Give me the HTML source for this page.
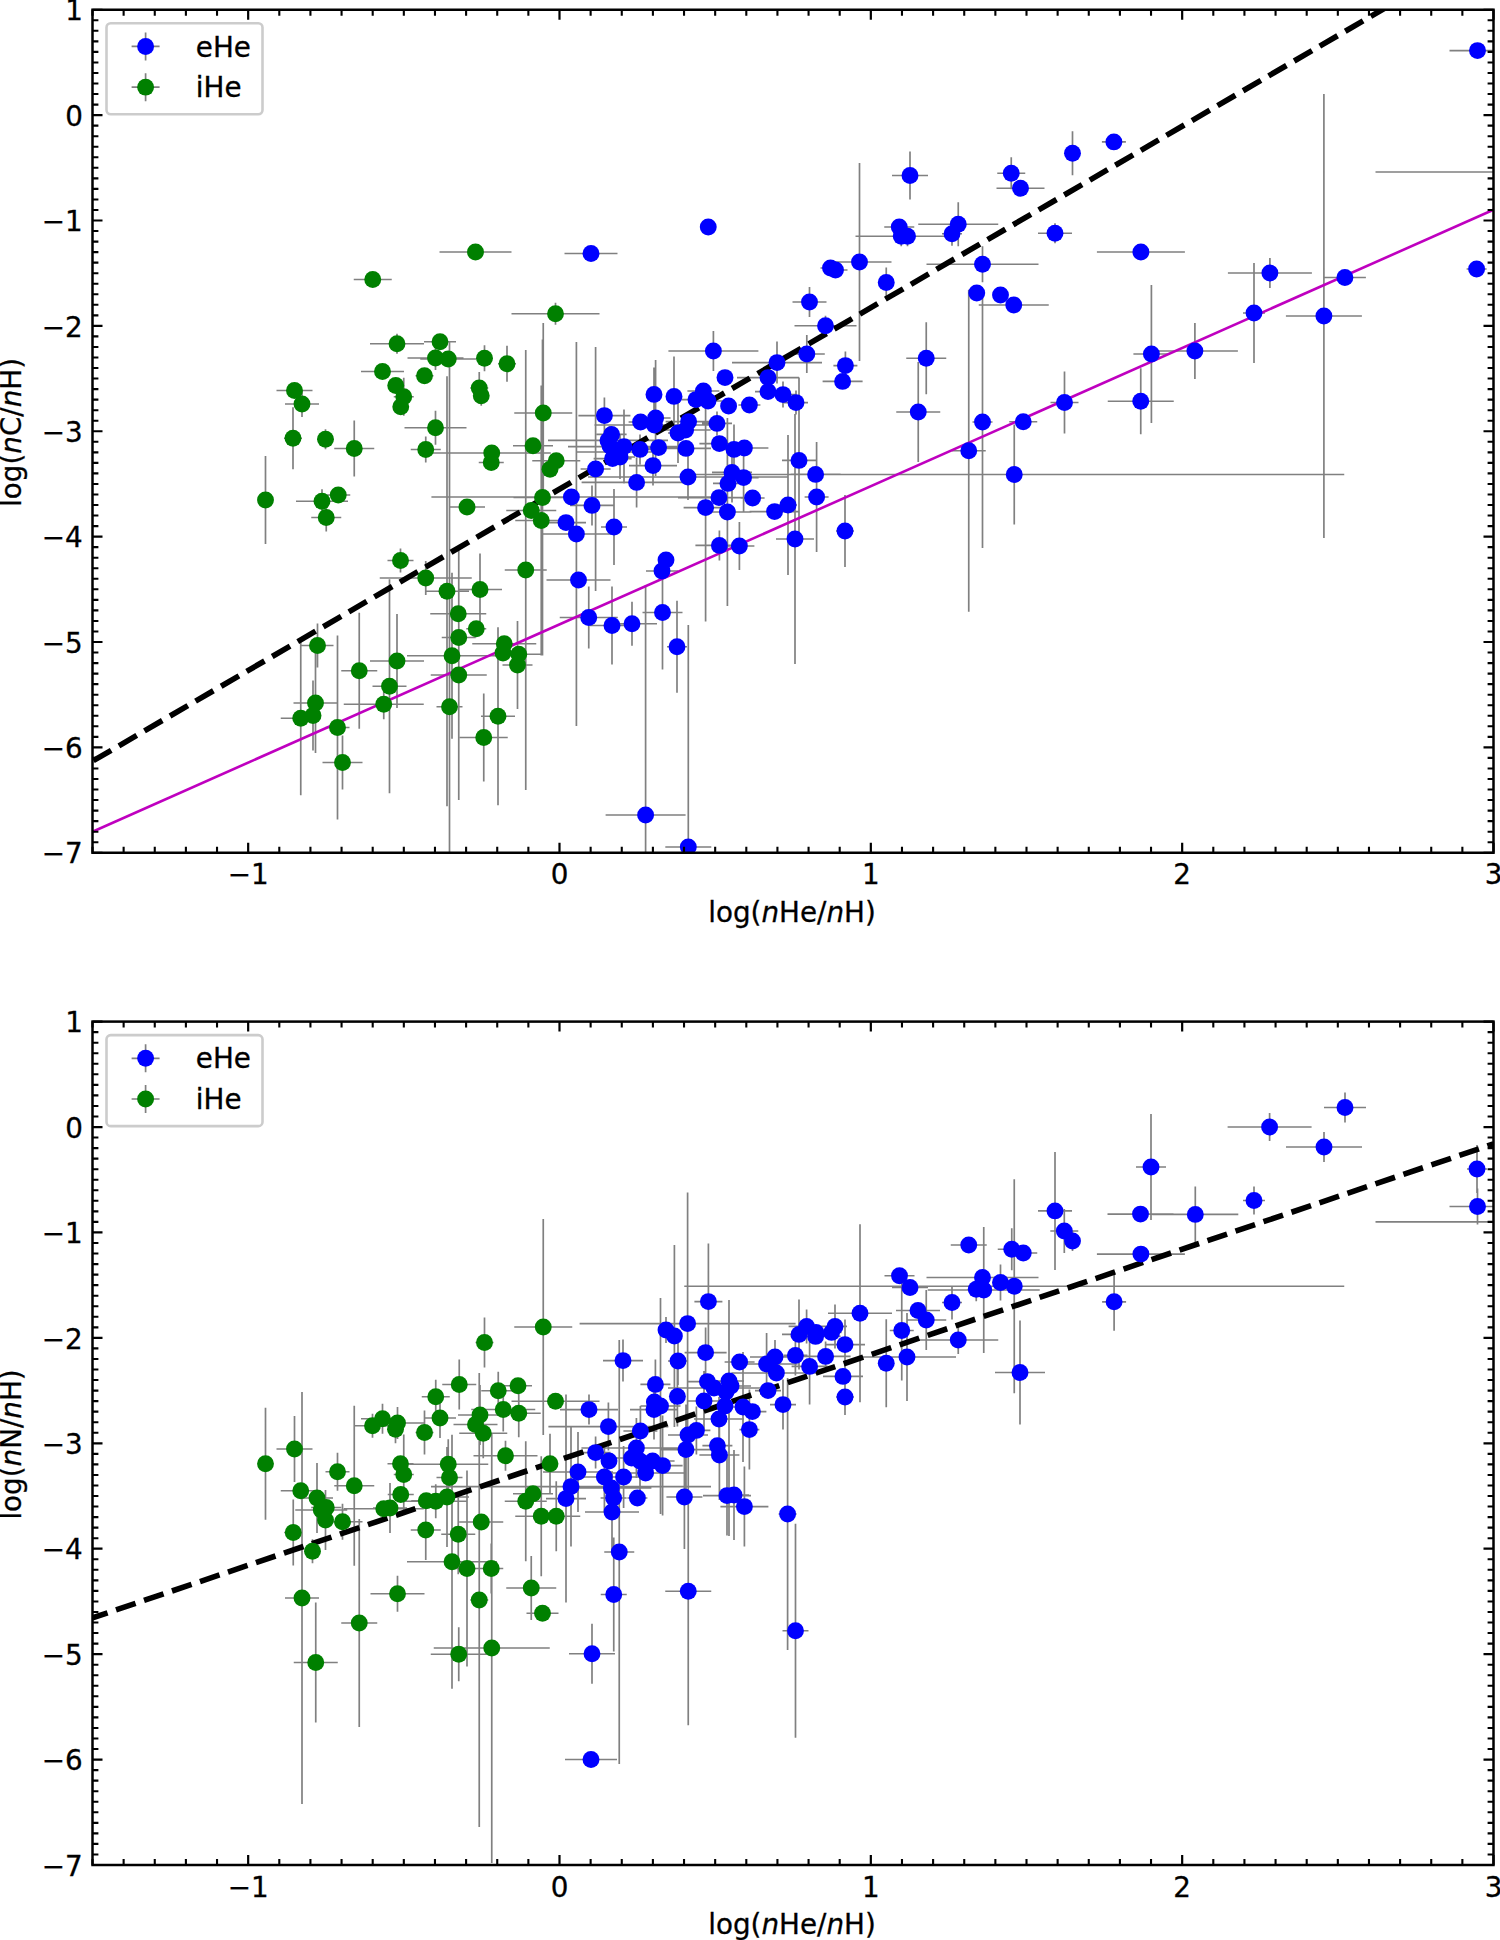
<!DOCTYPE html>
<html lang="en"><head><meta charset="utf-8"><title>Abundance plots</title>
<style>html,body{margin:0;padding:0;background:#fff}svg{display:block}text{font-family:"DejaVu Sans","Liberation Sans",sans-serif;font-size:27.78px;fill:#000;stroke:#000;stroke-width:0.3px}.it{font-style:italic}</style></head><body>
<svg width="1500" height="1940" viewBox="0 0 1500 1940">
<rect width="1500" height="1940" fill="#fff"/>
<defs><clipPath id="clip1"><rect x="92.50" y="9.75" width="1401.00" height="843.00"/></clipPath></defs>
<g clip-path="url(#clip1)">
<path d="M668.40 351.00H758.40M713.40 331.00V371.00M732.00 362.60H822.00M777.00 341.60V383.60M788.80 354.00H824.80M806.80 335.00V373.00M794.50 325.75H856.50M825.50 315.75V335.75M833.40 365.60H857.40M845.40 351.60V379.60M822.60 381.40H862.60M737.00 377.60H799.00M755.00 391.60H781.00M770.00 394.60H796.00M783.00 381.60V407.60M784.00 402.60H808.00M796.00 390.60V414.60M687.40 391.00H719.40M682.00 399.60H710.00M694.00 401.00H722.00M654.00 367.40V421.40M674.00 356.40V436.40M738.40 405.00H760.40M578.40 415.60H630.40M604.40 397.60V433.60M628.60 422.00H652.60M640.60 418.00H670.60M655.60 360.00V476.00M594.40 425.00H714.40M665.60 421.60H711.60M702.00 423.40H732.00M717.00 411.40V435.40M660.60 430.00H710.60M668.00 433.00H688.00M678.00 403.00V463.00M596.60 434.40H626.60M548.00 440.40H668.00M610.00 426.00V466.00M568.00 446.60H680.00M624.00 409.60V483.60M576.60 452.00H656.60M605.00 457.00H635.00M620.00 435.00V479.00M593.60 458.60H631.60M623.00 449.40H657.00M640.00 434.40V464.40M638.60 447.60H678.60M661.00 448.40H711.00M699.40 443.60H739.40M719.00 449.40H749.00M734.00 424.40V474.40M720.40 448.00H768.40M629.00 465.60H677.00M653.00 445.60V485.60M580.60 469.00H610.60M595.60 347.00V591.00M581.60 482.40H691.60M636.60 457.40V507.40M588.00 477.00H788.00M688.00 454.00V500.00M712.00 472.40H752.00M732.00 442.40V502.40M728.60 477.60H758.60M743.60 442.60V512.60M713.00 483.40H743.00M782.00 460.40H816.00M799.00 377.40V543.40M790.60 474.40H840.60M804.60 497.00H828.60M816.60 442.00V552.00M678.00 497.60H760.00M740.60 498.00H764.60M683.60 507.60H727.60M705.60 393.60V621.60M703.40 512.00H751.40M727.40 418.00V606.00M749.60 511.60H799.60M779.00 505.00H797.00M788.00 435.00V575.00M431.40 497.00H711.40M570.00 505.40H614.00M592.00 485.40V525.40M546.00 522.60H586.00M541.40 534.00H611.40M576.40 342.00V726.00M601.00 527.00H627.00M614.00 489.00V565.00M695.40 545.40H743.40M719.40 530.40V560.40M724.40 546.00H754.40M739.40 522.00V570.00M776.00 539.00H814.00M795.00 414.00V664.00M836.00 531.00H854.00M845.00 495.00V567.00M646.00 571.00H678.00M564.50 253.50H617.50M701.25 227.00H715.25M892.00 175.50H928.00M910.00 151.50V199.50M997.25 173.25H1025.25M1011.25 157.25V189.25M996.50 188.25H1044.50M1072.50 131.30V175.30M884.25 227.00H914.25M889.25 236.25H913.25M901.25 226.25V246.25M855.50 236.25H959.50M907.50 226.25V246.25M918.25 224.25H998.25M958.25 202.25V246.25M942.00 233.75H962.00M952.00 221.75V245.75M1038.00 233.25H1072.00M1055.00 223.25V243.25M827.50 262.00H891.50M859.50 163.00V361.00M820.50 268.00H840.50M823.50 270.00H847.50M886.25 267.50V297.50M926.50 264.25H1038.50M982.50 246.25V282.25M978.75 305.00H1048.75M792.50 302.00H826.50M809.50 287.00V317.00M906.25 358.25H946.25M926.25 322.25V394.25M1050.50 402.50H1078.50M1064.50 371.50V433.50M1101.90 141.90H1125.90M1096.90 252.00H1184.90M1449.50 50.60H1505.50M1227.90 273.00H1311.90M1269.90 258.00V288.00M1323.90 277.50H1365.90M1466.60 269.00H1486.60M1243.00 313.00H1265.00M1254.00 263.00V363.00M1285.90 316.00H1361.90M1323.90 94.00V538.00M1133.40 354.00H1169.40M1151.40 285.00V423.00M1151.90 351.00H1237.90M1194.90 323.00V379.00M1375.50 172.00H1824.50M896.25 412.00H940.25M918.25 362.00V462.00M972.50 422.00H992.50M982.50 296.00V548.00M951.75 450.75H985.75M968.75 289.75V611.75M1009.25 421.75H1037.25M684.25 474.50H1344.25M1014.25 424.50V524.50M1107.75 401.25H1173.75M1140.75 368.25V434.25M546.50 580.00H610.50M559.75 617.50H617.75M588.75 586.50V648.50M590.00 625.50H634.00M612.00 586.50V664.50M607.00 623.75H657.00M632.00 601.75V645.75M642.50 612.50H682.50M662.50 555.50V669.50M667.00 646.75H687.00M677.00 600.75V692.75M605.60 815.00H685.60M645.60 585.00V1045.00M665.30 847.00H711.30M688.30 625.00V1069.00M439.50 252.00H511.50M353.75 279.50H391.75M511.50 313.75H599.50M555.50 302.75V324.75M370.00 343.75H424.00M397.00 333.75V353.75M424.00 341.75H456.00M407.50 358.00H463.50M435.50 346.00V370.00M420.25 359.00H476.25M476.50 358.25H492.50M484.50 345.25V371.25M498.00 363.75H516.00M507.00 345.75V381.75M361.00 371.50H404.00M415.50 375.75H433.50M393.75 396.75H413.75M403.75 377.75V415.75M470.25 388.00H488.25M479.25 372.00V404.00M481.25 385.75V405.75M276.50 390.50H312.50M285.00 404.00H319.00M302.00 391.00V417.00M284.00 438.25H302.00M293.00 407.25V469.25M317.50 439.25H333.50M325.50 429.25V449.25M334.25 448.50H374.25M354.25 420.50V476.50M404.50 427.75H466.50M435.50 410.75V444.75M410.75 449.50H440.75M425.75 436.50V462.50M514.25 413.00H572.25M543.25 323.00V503.00M513.00 445.75H553.00M432.75 453.00H550.75M478.75 462.50H503.75M532.25 460.75H580.25M513.50 497.50H571.50M542.50 339.50V655.50M265.50 456.00V544.00M296.00 501.25H348.00M322.00 489.25V513.25M326.25 495.00H350.25M311.25 517.50H341.25M326.25 503.50V531.50M449.00 507.00H485.00M506.25 510.50H556.25M515.25 520.50H567.25M541.25 385.50V655.50M387.50 560.50H413.50M400.50 548.50V572.50M379.75 578.00H471.75M425.75 561.00V595.00M425.00 591.25H469.00M447.00 376.25V806.25M458.00 589.50H502.00M480.00 553.50V625.50M504.75 570.00H546.75M525.75 350.00V790.00M430.25 613.75H486.25M466.25 628.75H486.25M441.75 637.50H475.75M407.00 655.75H497.00M452.00 572.75V738.75M430.75 675.00H486.75M458.75 550.00V800.00M436.50 706.75H462.50M449.50 341.75V1071.75M472.25 643.75H536.25M496.75 654.25H540.75M502.50 665.00H532.50M517.50 621.00V709.00M481.00 716.25H515.00M498.00 627.25V805.25M459.75 737.50H507.75M483.75 693.50V781.50M301.50 645.50H333.50M317.50 623.50V667.50M341.25 670.75H377.25M359.25 612.75V728.75M370.00 661.00H424.00M397.00 614.00V708.00M372.50 686.25H406.50M389.50 579.25V793.25M343.75 704.25H423.75M383.75 689.25V719.25M293.50 703.00H337.50M315.50 653.00V753.00M313.00 680.50V750.50M280.75 718.25H320.75M300.75 641.25V795.25M325.50 727.50H349.50M337.50 635.50V819.50M322.50 762.50H362.50M342.50 735.50V789.50" stroke="#808080" stroke-width="1.70" fill="none"/>
<line x1="92.50" y1="831.70" x2="1493.50" y2="209.80" stroke="#bf00bf" stroke-width="2.6"/>
<line x1="92.50" y1="761.20" x2="1441.70" y2="-24.96" stroke="#000" stroke-width="5.6" stroke-dasharray="20.65 8.92" stroke-dashoffset="-1.00"/>
<g fill="#0000ff">
<circle cx="713.40" cy="351.00" r="8.45"/>
<circle cx="777.00" cy="362.60" r="8.45"/>
<circle cx="806.80" cy="354.00" r="8.45"/>
<circle cx="825.50" cy="325.75" r="8.45"/>
<circle cx="845.40" cy="365.60" r="8.45"/>
<circle cx="842.60" cy="381.40" r="8.45"/>
<circle cx="725.00" cy="377.60" r="8.45"/>
<circle cx="768.00" cy="377.60" r="8.45"/>
<circle cx="768.00" cy="391.60" r="8.45"/>
<circle cx="783.00" cy="394.60" r="8.45"/>
<circle cx="796.00" cy="402.60" r="8.45"/>
<circle cx="703.40" cy="391.00" r="8.45"/>
<circle cx="696.00" cy="399.60" r="8.45"/>
<circle cx="708.00" cy="401.00" r="8.45"/>
<circle cx="654.00" cy="394.40" r="8.45"/>
<circle cx="674.00" cy="396.40" r="8.45"/>
<circle cx="728.60" cy="406.00" r="8.45"/>
<circle cx="749.40" cy="405.00" r="8.45"/>
<circle cx="604.40" cy="415.60" r="8.45"/>
<circle cx="640.60" cy="422.00" r="8.45"/>
<circle cx="655.60" cy="418.00" r="8.45"/>
<circle cx="654.40" cy="425.00" r="8.45"/>
<circle cx="688.60" cy="421.60" r="8.45"/>
<circle cx="717.00" cy="423.40" r="8.45"/>
<circle cx="685.60" cy="430.00" r="8.45"/>
<circle cx="678.00" cy="433.00" r="8.45"/>
<circle cx="611.60" cy="434.40" r="8.45"/>
<circle cx="608.00" cy="440.40" r="8.45"/>
<circle cx="610.00" cy="446.00" r="8.45"/>
<circle cx="624.00" cy="446.60" r="8.45"/>
<circle cx="616.60" cy="452.00" r="8.45"/>
<circle cx="620.00" cy="457.00" r="8.45"/>
<circle cx="612.60" cy="458.60" r="8.45"/>
<circle cx="640.00" cy="449.40" r="8.45"/>
<circle cx="658.60" cy="447.60" r="8.45"/>
<circle cx="686.00" cy="448.40" r="8.45"/>
<circle cx="719.40" cy="443.60" r="8.45"/>
<circle cx="734.00" cy="449.40" r="8.45"/>
<circle cx="744.40" cy="448.00" r="8.45"/>
<circle cx="653.00" cy="465.60" r="8.45"/>
<circle cx="595.60" cy="469.00" r="8.45"/>
<circle cx="636.60" cy="482.40" r="8.45"/>
<circle cx="688.00" cy="477.00" r="8.45"/>
<circle cx="732.00" cy="472.40" r="8.45"/>
<circle cx="743.60" cy="477.60" r="8.45"/>
<circle cx="728.00" cy="483.40" r="8.45"/>
<circle cx="799.00" cy="460.40" r="8.45"/>
<circle cx="815.60" cy="474.40" r="8.45"/>
<circle cx="816.60" cy="497.00" r="8.45"/>
<circle cx="719.00" cy="497.60" r="8.45"/>
<circle cx="752.60" cy="498.00" r="8.45"/>
<circle cx="705.60" cy="507.60" r="8.45"/>
<circle cx="727.40" cy="512.00" r="8.45"/>
<circle cx="774.60" cy="511.60" r="8.45"/>
<circle cx="788.00" cy="505.00" r="8.45"/>
<circle cx="571.40" cy="497.00" r="8.45"/>
<circle cx="592.00" cy="505.40" r="8.45"/>
<circle cx="566.00" cy="522.60" r="8.45"/>
<circle cx="576.40" cy="534.00" r="8.45"/>
<circle cx="614.00" cy="527.00" r="8.45"/>
<circle cx="719.40" cy="545.40" r="8.45"/>
<circle cx="739.40" cy="546.00" r="8.45"/>
<circle cx="795.00" cy="539.00" r="8.45"/>
<circle cx="845.00" cy="531.00" r="8.45"/>
<circle cx="666.00" cy="560.00" r="8.45"/>
<circle cx="662.00" cy="571.00" r="8.45"/>
<circle cx="591.00" cy="253.50" r="8.45"/>
<circle cx="708.25" cy="227.00" r="8.45"/>
<circle cx="910.00" cy="175.50" r="8.45"/>
<circle cx="1011.25" cy="173.25" r="8.45"/>
<circle cx="1020.50" cy="188.25" r="8.45"/>
<circle cx="1072.50" cy="153.30" r="8.45"/>
<circle cx="899.25" cy="227.00" r="8.45"/>
<circle cx="901.25" cy="236.25" r="8.45"/>
<circle cx="907.50" cy="236.25" r="8.45"/>
<circle cx="958.25" cy="224.25" r="8.45"/>
<circle cx="952.00" cy="233.75" r="8.45"/>
<circle cx="1055.00" cy="233.25" r="8.45"/>
<circle cx="859.50" cy="262.00" r="8.45"/>
<circle cx="830.50" cy="268.00" r="8.45"/>
<circle cx="835.50" cy="270.00" r="8.45"/>
<circle cx="886.25" cy="282.50" r="8.45"/>
<circle cx="982.50" cy="264.25" r="8.45"/>
<circle cx="976.75" cy="293.00" r="8.45"/>
<circle cx="1000.50" cy="295.00" r="8.45"/>
<circle cx="1013.75" cy="305.00" r="8.45"/>
<circle cx="809.50" cy="302.00" r="8.45"/>
<circle cx="926.25" cy="358.25" r="8.45"/>
<circle cx="1064.50" cy="402.50" r="8.45"/>
<circle cx="1113.90" cy="141.90" r="8.45"/>
<circle cx="1140.90" cy="252.00" r="8.45"/>
<circle cx="1477.50" cy="50.60" r="8.45"/>
<circle cx="1269.90" cy="273.00" r="8.45"/>
<circle cx="1344.90" cy="277.50" r="8.45"/>
<circle cx="1476.60" cy="269.00" r="8.45"/>
<circle cx="1254.00" cy="313.00" r="8.45"/>
<circle cx="1323.90" cy="316.00" r="8.45"/>
<circle cx="1151.40" cy="354.00" r="8.45"/>
<circle cx="1194.90" cy="351.00" r="8.45"/>
<circle cx="1600.00" cy="172.00" r="8.45"/>
<circle cx="918.25" cy="412.00" r="8.45"/>
<circle cx="982.50" cy="422.00" r="8.45"/>
<circle cx="968.75" cy="450.75" r="8.45"/>
<circle cx="1023.25" cy="421.75" r="8.45"/>
<circle cx="1014.25" cy="474.50" r="8.45"/>
<circle cx="1140.75" cy="401.25" r="8.45"/>
<circle cx="578.50" cy="580.00" r="8.45"/>
<circle cx="588.75" cy="617.50" r="8.45"/>
<circle cx="612.00" cy="625.50" r="8.45"/>
<circle cx="632.00" cy="623.75" r="8.45"/>
<circle cx="662.50" cy="612.50" r="8.45"/>
<circle cx="677.00" cy="646.75" r="8.45"/>
<circle cx="645.60" cy="815.00" r="8.45"/>
<circle cx="688.30" cy="847.00" r="8.45"/>
</g>
<g fill="#008000">
<circle cx="475.50" cy="252.00" r="8.45"/>
<circle cx="372.75" cy="279.50" r="8.45"/>
<circle cx="555.50" cy="313.75" r="8.45"/>
<circle cx="397.00" cy="343.75" r="8.45"/>
<circle cx="440.00" cy="341.75" r="8.45"/>
<circle cx="435.50" cy="358.00" r="8.45"/>
<circle cx="448.25" cy="359.00" r="8.45"/>
<circle cx="484.50" cy="358.25" r="8.45"/>
<circle cx="507.00" cy="363.75" r="8.45"/>
<circle cx="382.50" cy="371.50" r="8.45"/>
<circle cx="424.50" cy="375.75" r="8.45"/>
<circle cx="395.75" cy="385.50" r="8.45"/>
<circle cx="403.75" cy="396.75" r="8.45"/>
<circle cx="400.75" cy="406.75" r="8.45"/>
<circle cx="479.25" cy="388.00" r="8.45"/>
<circle cx="481.25" cy="395.75" r="8.45"/>
<circle cx="294.50" cy="390.50" r="8.45"/>
<circle cx="302.00" cy="404.00" r="8.45"/>
<circle cx="293.00" cy="438.25" r="8.45"/>
<circle cx="325.50" cy="439.25" r="8.45"/>
<circle cx="354.25" cy="448.50" r="8.45"/>
<circle cx="435.50" cy="427.75" r="8.45"/>
<circle cx="425.75" cy="449.50" r="8.45"/>
<circle cx="543.25" cy="413.00" r="8.45"/>
<circle cx="533.00" cy="445.75" r="8.45"/>
<circle cx="491.75" cy="453.00" r="8.45"/>
<circle cx="491.25" cy="462.50" r="8.45"/>
<circle cx="556.25" cy="460.75" r="8.45"/>
<circle cx="550.00" cy="469.25" r="8.45"/>
<circle cx="542.50" cy="497.50" r="8.45"/>
<circle cx="265.50" cy="500.00" r="8.45"/>
<circle cx="322.00" cy="501.25" r="8.45"/>
<circle cx="338.25" cy="495.00" r="8.45"/>
<circle cx="326.25" cy="517.50" r="8.45"/>
<circle cx="467.00" cy="507.00" r="8.45"/>
<circle cx="531.25" cy="510.50" r="8.45"/>
<circle cx="541.25" cy="520.50" r="8.45"/>
<circle cx="400.50" cy="560.50" r="8.45"/>
<circle cx="425.75" cy="578.00" r="8.45"/>
<circle cx="447.00" cy="591.25" r="8.45"/>
<circle cx="480.00" cy="589.50" r="8.45"/>
<circle cx="525.75" cy="570.00" r="8.45"/>
<circle cx="458.25" cy="613.75" r="8.45"/>
<circle cx="476.25" cy="628.75" r="8.45"/>
<circle cx="458.75" cy="637.50" r="8.45"/>
<circle cx="452.00" cy="655.75" r="8.45"/>
<circle cx="458.75" cy="675.00" r="8.45"/>
<circle cx="449.50" cy="706.75" r="8.45"/>
<circle cx="504.25" cy="643.75" r="8.45"/>
<circle cx="503.00" cy="653.00" r="8.45"/>
<circle cx="518.75" cy="654.25" r="8.45"/>
<circle cx="517.50" cy="665.00" r="8.45"/>
<circle cx="498.00" cy="716.25" r="8.45"/>
<circle cx="483.75" cy="737.50" r="8.45"/>
<circle cx="317.50" cy="645.50" r="8.45"/>
<circle cx="359.25" cy="670.75" r="8.45"/>
<circle cx="397.00" cy="661.00" r="8.45"/>
<circle cx="389.50" cy="686.25" r="8.45"/>
<circle cx="383.75" cy="704.25" r="8.45"/>
<circle cx="315.50" cy="703.00" r="8.45"/>
<circle cx="313.00" cy="715.50" r="8.45"/>
<circle cx="300.75" cy="718.25" r="8.45"/>
<circle cx="337.50" cy="727.50" r="8.45"/>
<circle cx="342.50" cy="762.50" r="8.45"/>
</g>
</g>
<path d="M248.17 852.75v-10.00 M248.17 9.75v10.00 M559.50 852.75v-10.00 M559.50 9.75v10.00 M870.83 852.75v-10.00 M870.83 9.75v10.00 M1182.17 852.75v-10.00 M1182.17 9.75v10.00 M1493.50 852.75v-10.00 M1493.50 9.75v10.00 M92.50 9.75h10.00 M1493.50 9.75h-10.00 M92.50 115.12h10.00 M1493.50 115.12h-10.00 M92.50 220.50h10.00 M1493.50 220.50h-10.00 M92.50 325.88h10.00 M1493.50 325.88h-10.00 M92.50 431.25h10.00 M1493.50 431.25h-10.00 M92.50 536.62h10.00 M1493.50 536.62h-10.00 M92.50 642.00h10.00 M1493.50 642.00h-10.00 M92.50 747.38h10.00 M1493.50 747.38h-10.00 M92.50 852.75h10.00 M1493.50 852.75h-10.00" stroke="#000" stroke-width="2.2" fill="none"/>
<path d="M92.50 852.75v-5.90 M92.50 9.75v5.90 M123.63 852.75v-5.90 M123.63 9.75v5.90 M154.77 852.75v-5.90 M154.77 9.75v5.90 M185.90 852.75v-5.90 M185.90 9.75v5.90 M217.03 852.75v-5.90 M217.03 9.75v5.90 M279.30 852.75v-5.90 M279.30 9.75v5.90 M310.43 852.75v-5.90 M310.43 9.75v5.90 M341.57 852.75v-5.90 M341.57 9.75v5.90 M372.70 852.75v-5.90 M372.70 9.75v5.90 M403.83 852.75v-5.90 M403.83 9.75v5.90 M434.97 852.75v-5.90 M434.97 9.75v5.90 M466.10 852.75v-5.90 M466.10 9.75v5.90 M497.23 852.75v-5.90 M497.23 9.75v5.90 M528.37 852.75v-5.90 M528.37 9.75v5.90 M590.63 852.75v-5.90 M590.63 9.75v5.90 M621.77 852.75v-5.90 M621.77 9.75v5.90 M652.90 852.75v-5.90 M652.90 9.75v5.90 M684.03 852.75v-5.90 M684.03 9.75v5.90 M715.17 852.75v-5.90 M715.17 9.75v5.90 M746.30 852.75v-5.90 M746.30 9.75v5.90 M777.43 852.75v-5.90 M777.43 9.75v5.90 M808.57 852.75v-5.90 M808.57 9.75v5.90 M839.70 852.75v-5.90 M839.70 9.75v5.90 M901.97 852.75v-5.90 M901.97 9.75v5.90 M933.10 852.75v-5.90 M933.10 9.75v5.90 M964.23 852.75v-5.90 M964.23 9.75v5.90 M995.37 852.75v-5.90 M995.37 9.75v5.90 M1026.50 852.75v-5.90 M1026.50 9.75v5.90 M1057.63 852.75v-5.90 M1057.63 9.75v5.90 M1088.77 852.75v-5.90 M1088.77 9.75v5.90 M1119.90 852.75v-5.90 M1119.90 9.75v5.90 M1151.03 852.75v-5.90 M1151.03 9.75v5.90 M1213.30 852.75v-5.90 M1213.30 9.75v5.90 M1244.43 852.75v-5.90 M1244.43 9.75v5.90 M1275.57 852.75v-5.90 M1275.57 9.75v5.90 M1306.70 852.75v-5.90 M1306.70 9.75v5.90 M1337.83 852.75v-5.90 M1337.83 9.75v5.90 M1368.97 852.75v-5.90 M1368.97 9.75v5.90 M1400.10 852.75v-5.90 M1400.10 9.75v5.90 M1431.23 852.75v-5.90 M1431.23 9.75v5.90 M1462.37 852.75v-5.90 M1462.37 9.75v5.90 M92.50 20.29h5.90 M1493.50 20.29h-5.90 M92.50 30.82h5.90 M1493.50 30.82h-5.90 M92.50 41.36h5.90 M1493.50 41.36h-5.90 M92.50 51.90h5.90 M1493.50 51.90h-5.90 M92.50 62.44h5.90 M1493.50 62.44h-5.90 M92.50 72.98h5.90 M1493.50 72.98h-5.90 M92.50 83.51h5.90 M1493.50 83.51h-5.90 M92.50 94.05h5.90 M1493.50 94.05h-5.90 M92.50 104.59h5.90 M1493.50 104.59h-5.90 M92.50 125.66h5.90 M1493.50 125.66h-5.90 M92.50 136.20h5.90 M1493.50 136.20h-5.90 M92.50 146.74h5.90 M1493.50 146.74h-5.90 M92.50 157.28h5.90 M1493.50 157.28h-5.90 M92.50 167.81h5.90 M1493.50 167.81h-5.90 M92.50 178.35h5.90 M1493.50 178.35h-5.90 M92.50 188.89h5.90 M1493.50 188.89h-5.90 M92.50 199.43h5.90 M1493.50 199.43h-5.90 M92.50 209.96h5.90 M1493.50 209.96h-5.90 M92.50 231.04h5.90 M1493.50 231.04h-5.90 M92.50 241.58h5.90 M1493.50 241.58h-5.90 M92.50 252.11h5.90 M1493.50 252.11h-5.90 M92.50 262.65h5.90 M1493.50 262.65h-5.90 M92.50 273.19h5.90 M1493.50 273.19h-5.90 M92.50 283.73h5.90 M1493.50 283.73h-5.90 M92.50 294.26h5.90 M1493.50 294.26h-5.90 M92.50 304.80h5.90 M1493.50 304.80h-5.90 M92.50 315.34h5.90 M1493.50 315.34h-5.90 M92.50 336.41h5.90 M1493.50 336.41h-5.90 M92.50 346.95h5.90 M1493.50 346.95h-5.90 M92.50 357.49h5.90 M1493.50 357.49h-5.90 M92.50 368.03h5.90 M1493.50 368.03h-5.90 M92.50 378.56h5.90 M1493.50 378.56h-5.90 M92.50 389.10h5.90 M1493.50 389.10h-5.90 M92.50 399.64h5.90 M1493.50 399.64h-5.90 M92.50 410.18h5.90 M1493.50 410.18h-5.90 M92.50 420.71h5.90 M1493.50 420.71h-5.90 M92.50 441.79h5.90 M1493.50 441.79h-5.90 M92.50 452.33h5.90 M1493.50 452.33h-5.90 M92.50 462.86h5.90 M1493.50 462.86h-5.90 M92.50 473.40h5.90 M1493.50 473.40h-5.90 M92.50 483.94h5.90 M1493.50 483.94h-5.90 M92.50 494.48h5.90 M1493.50 494.48h-5.90 M92.50 505.01h5.90 M1493.50 505.01h-5.90 M92.50 515.55h5.90 M1493.50 515.55h-5.90 M92.50 526.09h5.90 M1493.50 526.09h-5.90 M92.50 547.16h5.90 M1493.50 547.16h-5.90 M92.50 557.70h5.90 M1493.50 557.70h-5.90 M92.50 568.24h5.90 M1493.50 568.24h-5.90 M92.50 578.78h5.90 M1493.50 578.78h-5.90 M92.50 589.31h5.90 M1493.50 589.31h-5.90 M92.50 599.85h5.90 M1493.50 599.85h-5.90 M92.50 610.39h5.90 M1493.50 610.39h-5.90 M92.50 620.93h5.90 M1493.50 620.93h-5.90 M92.50 631.46h5.90 M1493.50 631.46h-5.90 M92.50 652.54h5.90 M1493.50 652.54h-5.90 M92.50 663.08h5.90 M1493.50 663.08h-5.90 M92.50 673.61h5.90 M1493.50 673.61h-5.90 M92.50 684.15h5.90 M1493.50 684.15h-5.90 M92.50 694.69h5.90 M1493.50 694.69h-5.90 M92.50 705.23h5.90 M1493.50 705.23h-5.90 M92.50 715.76h5.90 M1493.50 715.76h-5.90 M92.50 726.30h5.90 M1493.50 726.30h-5.90 M92.50 736.84h5.90 M1493.50 736.84h-5.90 M92.50 757.91h5.90 M1493.50 757.91h-5.90 M92.50 768.45h5.90 M1493.50 768.45h-5.90 M92.50 778.99h5.90 M1493.50 778.99h-5.90 M92.50 789.53h5.90 M1493.50 789.53h-5.90 M92.50 800.06h5.90 M1493.50 800.06h-5.90 M92.50 810.60h5.90 M1493.50 810.60h-5.90 M92.50 821.14h5.90 M1493.50 821.14h-5.90 M92.50 831.68h5.90 M1493.50 831.68h-5.90 M92.50 842.21h5.90 M1493.50 842.21h-5.90" stroke="#000" stroke-width="2.1" fill="none"/>
<rect x="92.50" y="9.75" width="1401.00" height="843.00" fill="none" stroke="#000" stroke-width="2.5"/>
<text x="248.17" y="884.35" text-anchor="middle">−1</text>
<text x="559.50" y="884.35" text-anchor="middle">0</text>
<text x="870.83" y="884.35" text-anchor="middle">1</text>
<text x="1182.17" y="884.35" text-anchor="middle">2</text>
<text x="1493.50" y="884.35" text-anchor="middle">3</text>
<text x="82.80" y="20.45" text-anchor="end">1</text>
<text x="82.80" y="125.83" text-anchor="end">0</text>
<text x="82.80" y="231.20" text-anchor="end">−1</text>
<text x="82.80" y="336.57" text-anchor="end">−2</text>
<text x="82.80" y="441.95" text-anchor="end">−3</text>
<text x="82.80" y="547.33" text-anchor="end">−4</text>
<text x="82.80" y="652.70" text-anchor="end">−5</text>
<text x="82.80" y="758.08" text-anchor="end">−6</text>
<text x="82.80" y="863.45" text-anchor="end">−7</text>
<text x="792.00" y="922.05" text-anchor="middle">log(<tspan class="it">n</tspan>He/<tspan class="it">n</tspan>H)</text>
<text transform="translate(21 432.45) rotate(-90)" text-anchor="middle">log(<tspan class="it">n</tspan>C/<tspan class="it">n</tspan>H)</text>
<rect x="106.50" y="23.25" width="156" height="91" rx="4.2" ry="4.2" fill="#fff" fill-opacity="0.8" stroke="#cccccc" stroke-width="2.6"/>
<path d="M131.60 46.45h28M145.60 32.45v28" stroke="#808080" stroke-width="1.70"/>
<circle cx="145.60" cy="46.45" r="8.45" fill="#0000ff"/>
<text x="195.8" y="56.55">eHe</text>
<path d="M131.60 87.15h28M145.60 73.15v28" stroke="#808080" stroke-width="1.70"/>
<circle cx="145.60" cy="87.15" r="8.45" fill="#008000"/>
<text x="195.8" y="97.25">iHe</text>
<defs><clipPath id="clip2"><rect x="92.50" y="1021.60" width="1401.00" height="843.40"/></clipPath></defs>
<g clip-path="url(#clip2)">
<path d="M694.40 1301.60H722.40M708.40 1243.60V1359.60M579.60 1323.60H795.60M687.60 1192.60V1454.60M666.00 1317.00V1343.00M674.40 1245.00V1427.00M603.00 1360.60H643.00M623.00 1339.60V1381.60M684.60 1352.60H726.60M705.60 1327.60V1377.60M668.00 1361.00H688.00M678.00 1337.00V1385.00M724.60 1362.00H754.60M640.40 1384.40H670.40M655.40 1359.40V1409.40M677.40 1366.40V1426.40M640.50 1406.00H680.50M660.50 1298.00V1514.00M630.00 1409.60H678.00M654.00 1379.60V1439.60M560.00 1409.60H618.00M589.00 1394.60V1424.60M548.40 1426.60H668.40M608.40 1402.60V1450.60M623.40 1431.00H657.40M640.40 1406.00V1456.00M687.40 1381.60H727.40M668.00 1388.00H760.00M714.00 1381.00H744.00M711.00 1386.00H751.00M688.00 1401.00H720.00M704.00 1371.00V1431.00M694.00 1419.00H744.00M719.00 1397.00V1441.00M728.00 1407.00H758.00M743.00 1352.00V1462.00M738.40 1411.60H766.40M739.40 1429.60H759.40M749.40 1389.60V1469.60M682.40 1430.40H710.40M696.40 1406.40V1454.40M668.00 1435.00H708.00M661.00 1449.60H711.00M686.00 1404.60V1494.60M702.40 1445.60H732.40M699.40 1455.00H739.40M719.40 1410.00V1500.00M581.40 1448.00H691.40M636.40 1418.00V1478.00M606.60 1458.00H656.60M628.00 1461.00H652.00M640.00 1431.00V1491.00M630.60 1461.00H674.60M642.60 1465.60H682.60M662.60 1415.60V1515.60M605.60 1473.00H685.60M580.60 1452.60H610.60M595.60 1436.60V1468.60M543.00 1472.00H613.00M578.00 1432.00V1512.00M431.00 1486.60H711.00M571.00 1426.60V1546.60M546.00 1498.60H586.00M566.00 1394.60V1602.60M578.40 1477.00H630.40M604.40 1442.00V1512.00M603.60 1477.00H643.60M623.60 1446.00V1508.00M571.40 1488.00H651.40M600.60 1498.00H626.60M585.00 1512.00H639.00M612.00 1474.00V1550.00M627.40 1498.00H647.40M666.40 1497.00H702.40M684.40 1445.00V1549.00M703.00 1495.60H751.00M727.00 1455.60V1535.60M719.00 1495.00H749.00M734.00 1450.00V1540.00M720.40 1506.60H768.40M744.40 1466.60V1546.60M778.60 1514.00H796.60M787.60 1378.00V1650.00M770.00 1404.60H796.00M783.00 1379.60V1429.60M755.00 1390.60H781.00M735.60 1364.00H797.60M766.60 1333.00V1395.00M750.00 1357.00H800.00M775.00 1340.00V1374.00M731.40 1373.00H821.40M783.40 1355.40H807.40M795.40 1335.40V1375.40M791.60 1366.40H827.60M809.60 1328.40V1404.40M782.00 1334.40H816.00M799.00 1299.40V1369.40M788.60 1326.40H824.60M806.60 1309.40V1343.40M791.00 1332.40H841.00M790.60 1336.40H840.60M823.00 1326.40H847.00M835.00 1304.40V1348.40M821.60 1332.40H841.60M800.60 1356.40H850.60M825.60 1341.40V1371.40M825.00 1344.60H865.00M845.00 1319.60V1369.60M823.00 1376.40H863.00M836.00 1397.00H854.00M845.00 1379.00V1415.00M828.00 1313.25H892.00M860.00 1224.25V1402.25M884.50 1275.75H914.50M892.00 1287.50H928.00M896.00 1310.50H940.00M906.25 1320.00H946.25M926.25 1290.00V1350.00M889.75 1330.50H913.75M901.75 1280.50V1380.50M858.00 1357.00H956.00M907.00 1313.00V1401.00M886.25 1319.25V1407.25M942.00 1302.50H962.00M952.00 1285.50V1319.50M918.25 1340.00H998.25M958.25 1326.00V1354.00M950.75 1245.00H986.75M926.50 1277.50H1038.50M976.25 1277.25V1301.25M927.75 1290.00H1039.75M983.75 1227.00V1353.00M1000.50 1264.50V1300.50M684.25 1286.25H1344.25M1014.25 1179.25V1393.25M997.75 1249.25H1025.75M1011.75 1228.25V1270.25M1009.25 1253.00H1037.25M1038.00 1210.90H1072.00M1055.00 1151.90V1269.90M1050.30 1231.00H1078.30M1064.30 1209.00V1253.00M1072.50 1231.00V1251.00M995.00 1372.50H1045.00M1020.00 1320.50V1424.50M1102.10 1301.80H1126.10M1114.10 1272.80V1330.80M1107.50 1214.10H1173.50M1096.90 1254.10H1184.90M1152.30 1214.40H1238.30M1195.30 1186.40V1242.40M1136.00 1167.00H1166.00M1151.00 1114.00V1220.00M1243.00 1200.50H1265.00M1254.00 1186.50V1214.50M1227.60 1127.00H1311.60M1269.60 1113.00V1141.00M1286.00 1147.00H1362.00M1324.00 1132.00V1162.00M1324.00 1107.50H1366.00M1345.00 1092.50V1122.50M1467.00 1169.00H1487.00M1477.00 1145.00V1193.00M1449.50 1206.50H1505.50M1477.50 1188.50V1224.50M1375.50 1221.80H1824.50M604.25 1552.00H634.25M619.25 1340.00V1764.00M600.75 1594.50H626.75M613.75 1537.50V1651.50M665.25 1591.25H711.25M688.25 1457.25V1725.25M782.50 1630.75H808.50M795.50 1523.75V1737.75M569.00 1653.75H615.00M592.00 1623.75V1683.75M565.00 1759.50H617.00M265.50 1407.75V1519.75M276.50 1449.00H312.50M294.50 1416.00V1482.00M280.75 1490.75H320.75M284.25 1532.50H302.25M293.25 1499.50V1565.50M312.50 1539.25V1563.25M301.00 1498.00H333.00M317.00 1463.00V1533.00M311.25 1507.50H341.25M295.25 1510.00H347.25M317.50 1520.00H333.50M325.50 1490.00V1550.00M325.50 1471.75H349.50M337.50 1452.75V1490.75M334.25 1485.75H374.25M354.25 1405.75V1565.75M322.50 1521.75H362.50M342.50 1503.75V1539.75M353.50 1425.75H391.50M372.50 1413.75V1437.75M361.00 1418.75H404.00M382.50 1403.75V1433.75M370.50 1423.00H424.50M397.50 1407.00V1439.00M395.50 1415.25V1443.25M415.50 1432.50H433.50M424.50 1410.50V1454.50M424.00 1418.00H456.00M440.00 1398.00V1438.00M421.75 1396.75H449.75M435.75 1379.75V1413.75M442.25 1384.50H476.25M459.25 1359.50V1409.50M475.50 1342.50H493.50M484.50 1317.50V1367.50M514.25 1327.00H572.25M543.25 1219.00V1435.00M481.25 1390.75H515.25M498.25 1371.75V1409.75M504.00 1385.75H532.00M471.25 1409.50H535.25M503.25 1387.50V1431.50M496.75 1413.25H540.75M518.75 1389.25V1437.25M511.50 1401.25H599.50M458.00 1415.00H502.00M480.00 1385.00V1445.00M453.50 1424.50H497.50M459.25 1433.25H507.25M483.25 1408.25V1458.25M473.50 1455.75H537.50M505.50 1440.75V1470.75M550.00 1433.75V1493.75M387.50 1463.75H413.50M393.75 1474.50H413.75M403.75 1434.50V1514.50M387.75 1494.50H413.75M408.25 1464.25H488.25M448.25 1439.25V1489.25M436.50 1477.50H462.50M343.75 1508.75H423.75M373.00 1508.00H407.00M390.00 1483.00V1533.00M411.25 1500.75H441.25M404.75 1501.25H466.75M435.75 1484.25V1518.25M425.00 1497.00H469.00M447.00 1447.00V1547.00M410.75 1530.00H440.75M425.75 1500.00V1560.00M441.25 1534.25H475.25M458.25 1494.25V1574.25M459.25 1522.00H503.25M407.00 1561.75H497.00M452.00 1434.75V1688.75M449.00 1568.50H485.00M467.00 1470.50V1666.50M479.25 1568.50H503.25M491.25 1543.50V1593.50M513.00 1493.75H553.00M504.75 1501.25H546.75M525.75 1441.25V1561.25M515.25 1516.25H567.25M541.25 1456.25V1576.25M532.25 1516.25H580.25M556.25 1481.25V1551.25M285.00 1598.00H319.00M302.00 1392.00V1804.00M293.75 1662.50H337.75M315.75 1602.50V1722.50M341.25 1623.00H377.25M359.25 1519.00V1727.00M370.50 1593.75H424.50M397.50 1575.75V1611.75M470.25 1600.00H488.25M479.25 1373.00V1827.00M506.25 1588.00H556.25M531.25 1556.00V1620.00M526.50 1613.25H558.50M433.75 1648.00H549.75M491.75 1433.00V1863.00M430.75 1654.25H486.75M458.75 1627.25V1681.25M729.00 1300.00L729.00 1536.00" stroke="#808080" stroke-width="1.70" fill="none"/>
<line x1="92.50" y1="1617.90" x2="1493.50" y2="1143.90" stroke="#000" stroke-width="5.6" stroke-dasharray="20.63 8.915" stroke-dashoffset="4.70"/>
<g fill="#0000ff">
<circle cx="708.40" cy="1301.60" r="8.45"/>
<circle cx="687.60" cy="1323.60" r="8.45"/>
<circle cx="666.00" cy="1330.00" r="8.45"/>
<circle cx="674.40" cy="1336.00" r="8.45"/>
<circle cx="623.00" cy="1360.60" r="8.45"/>
<circle cx="705.60" cy="1352.60" r="8.45"/>
<circle cx="678.00" cy="1361.00" r="8.45"/>
<circle cx="739.60" cy="1362.00" r="8.45"/>
<circle cx="655.40" cy="1384.40" r="8.45"/>
<circle cx="677.40" cy="1396.40" r="8.45"/>
<circle cx="654.40" cy="1402.00" r="8.45"/>
<circle cx="660.50" cy="1406.00" r="8.45"/>
<circle cx="654.00" cy="1409.60" r="8.45"/>
<circle cx="589.00" cy="1409.60" r="8.45"/>
<circle cx="608.40" cy="1426.60" r="8.45"/>
<circle cx="640.40" cy="1431.00" r="8.45"/>
<circle cx="707.40" cy="1381.60" r="8.45"/>
<circle cx="714.00" cy="1388.00" r="8.45"/>
<circle cx="729.00" cy="1381.00" r="8.45"/>
<circle cx="731.00" cy="1386.00" r="8.45"/>
<circle cx="726.00" cy="1392.00" r="8.45"/>
<circle cx="704.00" cy="1401.00" r="8.45"/>
<circle cx="725.00" cy="1406.00" r="8.45"/>
<circle cx="719.00" cy="1419.00" r="8.45"/>
<circle cx="743.00" cy="1407.00" r="8.45"/>
<circle cx="752.40" cy="1411.60" r="8.45"/>
<circle cx="749.40" cy="1429.60" r="8.45"/>
<circle cx="696.40" cy="1430.40" r="8.45"/>
<circle cx="688.00" cy="1435.00" r="8.45"/>
<circle cx="686.00" cy="1449.60" r="8.45"/>
<circle cx="717.40" cy="1445.60" r="8.45"/>
<circle cx="719.40" cy="1455.00" r="8.45"/>
<circle cx="636.40" cy="1448.00" r="8.45"/>
<circle cx="631.60" cy="1458.00" r="8.45"/>
<circle cx="640.00" cy="1461.00" r="8.45"/>
<circle cx="652.60" cy="1461.00" r="8.45"/>
<circle cx="662.60" cy="1465.60" r="8.45"/>
<circle cx="645.60" cy="1473.00" r="8.45"/>
<circle cx="595.60" cy="1452.60" r="8.45"/>
<circle cx="609.00" cy="1461.00" r="8.45"/>
<circle cx="578.00" cy="1472.00" r="8.45"/>
<circle cx="571.00" cy="1486.60" r="8.45"/>
<circle cx="566.00" cy="1498.60" r="8.45"/>
<circle cx="604.40" cy="1477.00" r="8.45"/>
<circle cx="623.60" cy="1477.00" r="8.45"/>
<circle cx="611.40" cy="1488.00" r="8.45"/>
<circle cx="613.60" cy="1498.00" r="8.45"/>
<circle cx="612.00" cy="1512.00" r="8.45"/>
<circle cx="637.40" cy="1498.00" r="8.45"/>
<circle cx="684.40" cy="1497.00" r="8.45"/>
<circle cx="727.00" cy="1495.60" r="8.45"/>
<circle cx="734.00" cy="1495.00" r="8.45"/>
<circle cx="744.40" cy="1506.60" r="8.45"/>
<circle cx="787.60" cy="1514.00" r="8.45"/>
<circle cx="783.00" cy="1404.60" r="8.45"/>
<circle cx="768.00" cy="1390.60" r="8.45"/>
<circle cx="766.60" cy="1364.00" r="8.45"/>
<circle cx="775.00" cy="1357.00" r="8.45"/>
<circle cx="776.40" cy="1373.00" r="8.45"/>
<circle cx="795.40" cy="1355.40" r="8.45"/>
<circle cx="809.60" cy="1366.40" r="8.45"/>
<circle cx="799.00" cy="1334.40" r="8.45"/>
<circle cx="806.60" cy="1326.40" r="8.45"/>
<circle cx="816.00" cy="1332.40" r="8.45"/>
<circle cx="815.60" cy="1336.40" r="8.45"/>
<circle cx="835.00" cy="1326.40" r="8.45"/>
<circle cx="831.60" cy="1332.40" r="8.45"/>
<circle cx="825.60" cy="1356.40" r="8.45"/>
<circle cx="845.00" cy="1344.60" r="8.45"/>
<circle cx="843.00" cy="1376.40" r="8.45"/>
<circle cx="845.00" cy="1397.00" r="8.45"/>
<circle cx="860.00" cy="1313.25" r="8.45"/>
<circle cx="899.50" cy="1275.75" r="8.45"/>
<circle cx="910.00" cy="1287.50" r="8.45"/>
<circle cx="918.00" cy="1310.50" r="8.45"/>
<circle cx="926.25" cy="1320.00" r="8.45"/>
<circle cx="901.75" cy="1330.50" r="8.45"/>
<circle cx="907.00" cy="1357.00" r="8.45"/>
<circle cx="886.25" cy="1363.25" r="8.45"/>
<circle cx="952.00" cy="1302.50" r="8.45"/>
<circle cx="958.25" cy="1340.00" r="8.45"/>
<circle cx="968.75" cy="1245.00" r="8.45"/>
<circle cx="982.50" cy="1277.50" r="8.45"/>
<circle cx="976.25" cy="1289.25" r="8.45"/>
<circle cx="983.75" cy="1290.00" r="8.45"/>
<circle cx="1000.50" cy="1282.50" r="8.45"/>
<circle cx="1014.25" cy="1286.25" r="8.45"/>
<circle cx="1011.75" cy="1249.25" r="8.45"/>
<circle cx="1023.25" cy="1253.00" r="8.45"/>
<circle cx="1055.00" cy="1210.90" r="8.45"/>
<circle cx="1064.30" cy="1231.00" r="8.45"/>
<circle cx="1072.50" cy="1241.00" r="8.45"/>
<circle cx="1020.00" cy="1372.50" r="8.45"/>
<circle cx="1114.10" cy="1301.80" r="8.45"/>
<circle cx="1140.50" cy="1214.10" r="8.45"/>
<circle cx="1140.90" cy="1254.10" r="8.45"/>
<circle cx="1195.30" cy="1214.40" r="8.45"/>
<circle cx="1151.00" cy="1167.00" r="8.45"/>
<circle cx="1254.00" cy="1200.50" r="8.45"/>
<circle cx="1269.60" cy="1127.00" r="8.45"/>
<circle cx="1324.00" cy="1147.00" r="8.45"/>
<circle cx="1345.00" cy="1107.50" r="8.45"/>
<circle cx="1477.00" cy="1169.00" r="8.45"/>
<circle cx="1477.50" cy="1206.50" r="8.45"/>
<circle cx="1600.00" cy="1221.80" r="8.45"/>
<circle cx="619.25" cy="1552.00" r="8.45"/>
<circle cx="613.75" cy="1594.50" r="8.45"/>
<circle cx="688.25" cy="1591.25" r="8.45"/>
<circle cx="795.50" cy="1630.75" r="8.45"/>
<circle cx="592.00" cy="1653.75" r="8.45"/>
<circle cx="591.00" cy="1759.50" r="8.45"/>
</g>
<g fill="#008000">
<circle cx="265.50" cy="1463.75" r="8.45"/>
<circle cx="294.50" cy="1449.00" r="8.45"/>
<circle cx="300.75" cy="1490.75" r="8.45"/>
<circle cx="293.25" cy="1532.50" r="8.45"/>
<circle cx="312.50" cy="1551.25" r="8.45"/>
<circle cx="317.00" cy="1498.00" r="8.45"/>
<circle cx="326.25" cy="1507.50" r="8.45"/>
<circle cx="321.25" cy="1510.00" r="8.45"/>
<circle cx="325.50" cy="1520.00" r="8.45"/>
<circle cx="337.50" cy="1471.75" r="8.45"/>
<circle cx="354.25" cy="1485.75" r="8.45"/>
<circle cx="342.50" cy="1521.75" r="8.45"/>
<circle cx="372.50" cy="1425.75" r="8.45"/>
<circle cx="382.50" cy="1418.75" r="8.45"/>
<circle cx="397.50" cy="1423.00" r="8.45"/>
<circle cx="395.50" cy="1429.25" r="8.45"/>
<circle cx="424.50" cy="1432.50" r="8.45"/>
<circle cx="440.00" cy="1418.00" r="8.45"/>
<circle cx="435.75" cy="1396.75" r="8.45"/>
<circle cx="459.25" cy="1384.50" r="8.45"/>
<circle cx="484.50" cy="1342.50" r="8.45"/>
<circle cx="543.25" cy="1327.00" r="8.45"/>
<circle cx="498.25" cy="1390.75" r="8.45"/>
<circle cx="518.00" cy="1385.75" r="8.45"/>
<circle cx="503.25" cy="1409.50" r="8.45"/>
<circle cx="518.75" cy="1413.25" r="8.45"/>
<circle cx="555.50" cy="1401.25" r="8.45"/>
<circle cx="480.00" cy="1415.00" r="8.45"/>
<circle cx="475.50" cy="1424.50" r="8.45"/>
<circle cx="483.25" cy="1433.25" r="8.45"/>
<circle cx="505.50" cy="1455.75" r="8.45"/>
<circle cx="550.00" cy="1463.75" r="8.45"/>
<circle cx="400.50" cy="1463.75" r="8.45"/>
<circle cx="403.75" cy="1474.50" r="8.45"/>
<circle cx="400.75" cy="1494.50" r="8.45"/>
<circle cx="448.25" cy="1464.25" r="8.45"/>
<circle cx="449.50" cy="1477.50" r="8.45"/>
<circle cx="383.75" cy="1508.75" r="8.45"/>
<circle cx="390.00" cy="1508.00" r="8.45"/>
<circle cx="426.25" cy="1500.75" r="8.45"/>
<circle cx="435.75" cy="1501.25" r="8.45"/>
<circle cx="447.00" cy="1497.00" r="8.45"/>
<circle cx="425.75" cy="1530.00" r="8.45"/>
<circle cx="458.25" cy="1534.25" r="8.45"/>
<circle cx="481.25" cy="1522.00" r="8.45"/>
<circle cx="452.00" cy="1561.75" r="8.45"/>
<circle cx="467.00" cy="1568.50" r="8.45"/>
<circle cx="491.25" cy="1568.50" r="8.45"/>
<circle cx="533.00" cy="1493.75" r="8.45"/>
<circle cx="525.75" cy="1501.25" r="8.45"/>
<circle cx="541.25" cy="1516.25" r="8.45"/>
<circle cx="556.25" cy="1516.25" r="8.45"/>
<circle cx="302.00" cy="1598.00" r="8.45"/>
<circle cx="315.75" cy="1662.50" r="8.45"/>
<circle cx="359.25" cy="1623.00" r="8.45"/>
<circle cx="397.50" cy="1593.75" r="8.45"/>
<circle cx="479.25" cy="1600.00" r="8.45"/>
<circle cx="531.25" cy="1588.00" r="8.45"/>
<circle cx="542.50" cy="1613.25" r="8.45"/>
<circle cx="491.75" cy="1648.00" r="8.45"/>
<circle cx="458.75" cy="1654.25" r="8.45"/>
</g>
</g>
<path d="M248.17 1865.00v-10.00 M248.17 1021.60v10.00 M559.50 1865.00v-10.00 M559.50 1021.60v10.00 M870.83 1865.00v-10.00 M870.83 1021.60v10.00 M1182.17 1865.00v-10.00 M1182.17 1021.60v10.00 M1493.50 1865.00v-10.00 M1493.50 1021.60v10.00 M92.50 1021.60h10.00 M1493.50 1021.60h-10.00 M92.50 1127.03h10.00 M1493.50 1127.03h-10.00 M92.50 1232.45h10.00 M1493.50 1232.45h-10.00 M92.50 1337.88h10.00 M1493.50 1337.88h-10.00 M92.50 1443.30h10.00 M1493.50 1443.30h-10.00 M92.50 1548.72h10.00 M1493.50 1548.72h-10.00 M92.50 1654.15h10.00 M1493.50 1654.15h-10.00 M92.50 1759.58h10.00 M1493.50 1759.58h-10.00 M92.50 1865.00h10.00 M1493.50 1865.00h-10.00" stroke="#000" stroke-width="2.2" fill="none"/>
<path d="M92.50 1865.00v-5.90 M92.50 1021.60v5.90 M123.63 1865.00v-5.90 M123.63 1021.60v5.90 M154.77 1865.00v-5.90 M154.77 1021.60v5.90 M185.90 1865.00v-5.90 M185.90 1021.60v5.90 M217.03 1865.00v-5.90 M217.03 1021.60v5.90 M279.30 1865.00v-5.90 M279.30 1021.60v5.90 M310.43 1865.00v-5.90 M310.43 1021.60v5.90 M341.57 1865.00v-5.90 M341.57 1021.60v5.90 M372.70 1865.00v-5.90 M372.70 1021.60v5.90 M403.83 1865.00v-5.90 M403.83 1021.60v5.90 M434.97 1865.00v-5.90 M434.97 1021.60v5.90 M466.10 1865.00v-5.90 M466.10 1021.60v5.90 M497.23 1865.00v-5.90 M497.23 1021.60v5.90 M528.37 1865.00v-5.90 M528.37 1021.60v5.90 M590.63 1865.00v-5.90 M590.63 1021.60v5.90 M621.77 1865.00v-5.90 M621.77 1021.60v5.90 M652.90 1865.00v-5.90 M652.90 1021.60v5.90 M684.03 1865.00v-5.90 M684.03 1021.60v5.90 M715.17 1865.00v-5.90 M715.17 1021.60v5.90 M746.30 1865.00v-5.90 M746.30 1021.60v5.90 M777.43 1865.00v-5.90 M777.43 1021.60v5.90 M808.57 1865.00v-5.90 M808.57 1021.60v5.90 M839.70 1865.00v-5.90 M839.70 1021.60v5.90 M901.97 1865.00v-5.90 M901.97 1021.60v5.90 M933.10 1865.00v-5.90 M933.10 1021.60v5.90 M964.23 1865.00v-5.90 M964.23 1021.60v5.90 M995.37 1865.00v-5.90 M995.37 1021.60v5.90 M1026.50 1865.00v-5.90 M1026.50 1021.60v5.90 M1057.63 1865.00v-5.90 M1057.63 1021.60v5.90 M1088.77 1865.00v-5.90 M1088.77 1021.60v5.90 M1119.90 1865.00v-5.90 M1119.90 1021.60v5.90 M1151.03 1865.00v-5.90 M1151.03 1021.60v5.90 M1213.30 1865.00v-5.90 M1213.30 1021.60v5.90 M1244.43 1865.00v-5.90 M1244.43 1021.60v5.90 M1275.57 1865.00v-5.90 M1275.57 1021.60v5.90 M1306.70 1865.00v-5.90 M1306.70 1021.60v5.90 M1337.83 1865.00v-5.90 M1337.83 1021.60v5.90 M1368.97 1865.00v-5.90 M1368.97 1021.60v5.90 M1400.10 1865.00v-5.90 M1400.10 1021.60v5.90 M1431.23 1865.00v-5.90 M1431.23 1021.60v5.90 M1462.37 1865.00v-5.90 M1462.37 1021.60v5.90 M92.50 1032.14h5.90 M1493.50 1032.14h-5.90 M92.50 1042.68h5.90 M1493.50 1042.68h-5.90 M92.50 1053.23h5.90 M1493.50 1053.23h-5.90 M92.50 1063.77h5.90 M1493.50 1063.77h-5.90 M92.50 1074.31h5.90 M1493.50 1074.31h-5.90 M92.50 1084.86h5.90 M1493.50 1084.86h-5.90 M92.50 1095.40h5.90 M1493.50 1095.40h-5.90 M92.50 1105.94h5.90 M1493.50 1105.94h-5.90 M92.50 1116.48h5.90 M1493.50 1116.48h-5.90 M92.50 1137.57h5.90 M1493.50 1137.57h-5.90 M92.50 1148.11h5.90 M1493.50 1148.11h-5.90 M92.50 1158.65h5.90 M1493.50 1158.65h-5.90 M92.50 1169.19h5.90 M1493.50 1169.19h-5.90 M92.50 1179.74h5.90 M1493.50 1179.74h-5.90 M92.50 1190.28h5.90 M1493.50 1190.28h-5.90 M92.50 1200.82h5.90 M1493.50 1200.82h-5.90 M92.50 1211.37h5.90 M1493.50 1211.37h-5.90 M92.50 1221.91h5.90 M1493.50 1221.91h-5.90 M92.50 1242.99h5.90 M1493.50 1242.99h-5.90 M92.50 1253.54h5.90 M1493.50 1253.54h-5.90 M92.50 1264.08h5.90 M1493.50 1264.08h-5.90 M92.50 1274.62h5.90 M1493.50 1274.62h-5.90 M92.50 1285.16h5.90 M1493.50 1285.16h-5.90 M92.50 1295.70h5.90 M1493.50 1295.70h-5.90 M92.50 1306.25h5.90 M1493.50 1306.25h-5.90 M92.50 1316.79h5.90 M1493.50 1316.79h-5.90 M92.50 1327.33h5.90 M1493.50 1327.33h-5.90 M92.50 1348.42h5.90 M1493.50 1348.42h-5.90 M92.50 1358.96h5.90 M1493.50 1358.96h-5.90 M92.50 1369.50h5.90 M1493.50 1369.50h-5.90 M92.50 1380.05h5.90 M1493.50 1380.05h-5.90 M92.50 1390.59h5.90 M1493.50 1390.59h-5.90 M92.50 1401.13h5.90 M1493.50 1401.13h-5.90 M92.50 1411.67h5.90 M1493.50 1411.67h-5.90 M92.50 1422.22h5.90 M1493.50 1422.22h-5.90 M92.50 1432.76h5.90 M1493.50 1432.76h-5.90 M92.50 1453.84h5.90 M1493.50 1453.84h-5.90 M92.50 1464.38h5.90 M1493.50 1464.38h-5.90 M92.50 1474.93h5.90 M1493.50 1474.93h-5.90 M92.50 1485.47h5.90 M1493.50 1485.47h-5.90 M92.50 1496.01h5.90 M1493.50 1496.01h-5.90 M92.50 1506.56h5.90 M1493.50 1506.56h-5.90 M92.50 1517.10h5.90 M1493.50 1517.10h-5.90 M92.50 1527.64h5.90 M1493.50 1527.64h-5.90 M92.50 1538.18h5.90 M1493.50 1538.18h-5.90 M92.50 1559.27h5.90 M1493.50 1559.27h-5.90 M92.50 1569.81h5.90 M1493.50 1569.81h-5.90 M92.50 1580.35h5.90 M1493.50 1580.35h-5.90 M92.50 1590.89h5.90 M1493.50 1590.89h-5.90 M92.50 1601.44h5.90 M1493.50 1601.44h-5.90 M92.50 1611.98h5.90 M1493.50 1611.98h-5.90 M92.50 1622.52h5.90 M1493.50 1622.52h-5.90 M92.50 1633.07h5.90 M1493.50 1633.07h-5.90 M92.50 1643.61h5.90 M1493.50 1643.61h-5.90 M92.50 1664.69h5.90 M1493.50 1664.69h-5.90 M92.50 1675.24h5.90 M1493.50 1675.24h-5.90 M92.50 1685.78h5.90 M1493.50 1685.78h-5.90 M92.50 1696.32h5.90 M1493.50 1696.32h-5.90 M92.50 1706.86h5.90 M1493.50 1706.86h-5.90 M92.50 1717.41h5.90 M1493.50 1717.41h-5.90 M92.50 1727.95h5.90 M1493.50 1727.95h-5.90 M92.50 1738.49h5.90 M1493.50 1738.49h-5.90 M92.50 1749.03h5.90 M1493.50 1749.03h-5.90 M92.50 1770.12h5.90 M1493.50 1770.12h-5.90 M92.50 1780.66h5.90 M1493.50 1780.66h-5.90 M92.50 1791.20h5.90 M1493.50 1791.20h-5.90 M92.50 1801.74h5.90 M1493.50 1801.74h-5.90 M92.50 1812.29h5.90 M1493.50 1812.29h-5.90 M92.50 1822.83h5.90 M1493.50 1822.83h-5.90 M92.50 1833.37h5.90 M1493.50 1833.37h-5.90 M92.50 1843.91h5.90 M1493.50 1843.91h-5.90 M92.50 1854.46h5.90 M1493.50 1854.46h-5.90" stroke="#000" stroke-width="2.1" fill="none"/>
<rect x="92.50" y="1021.60" width="1401.00" height="843.40" fill="none" stroke="#000" stroke-width="2.5"/>
<text x="248.17" y="1896.60" text-anchor="middle">−1</text>
<text x="559.50" y="1896.60" text-anchor="middle">0</text>
<text x="870.83" y="1896.60" text-anchor="middle">1</text>
<text x="1182.17" y="1896.60" text-anchor="middle">2</text>
<text x="1493.50" y="1896.60" text-anchor="middle">3</text>
<text x="82.80" y="1032.30" text-anchor="end">1</text>
<text x="82.80" y="1137.73" text-anchor="end">0</text>
<text x="82.80" y="1243.15" text-anchor="end">−1</text>
<text x="82.80" y="1348.58" text-anchor="end">−2</text>
<text x="82.80" y="1454.00" text-anchor="end">−3</text>
<text x="82.80" y="1559.42" text-anchor="end">−4</text>
<text x="82.80" y="1664.85" text-anchor="end">−5</text>
<text x="82.80" y="1770.28" text-anchor="end">−6</text>
<text x="82.80" y="1875.70" text-anchor="end">−7</text>
<text x="792.00" y="1934.30" text-anchor="middle">log(<tspan class="it">n</tspan>He/<tspan class="it">n</tspan>H)</text>
<text transform="translate(21 1444.50) rotate(-90)" text-anchor="middle">log(<tspan class="it">n</tspan>N/<tspan class="it">n</tspan>H)</text>
<rect x="106.50" y="1035.10" width="156" height="91" rx="4.2" ry="4.2" fill="#fff" fill-opacity="0.8" stroke="#cccccc" stroke-width="2.6"/>
<path d="M131.60 1058.30h28M145.60 1044.30v28" stroke="#808080" stroke-width="1.70"/>
<circle cx="145.60" cy="1058.30" r="8.45" fill="#0000ff"/>
<text x="195.8" y="1068.40">eHe</text>
<path d="M131.60 1099.00h28M145.60 1085.00v28" stroke="#808080" stroke-width="1.70"/>
<circle cx="145.60" cy="1099.00" r="8.45" fill="#008000"/>
<text x="195.8" y="1109.10">iHe</text>
</svg></body></html>
